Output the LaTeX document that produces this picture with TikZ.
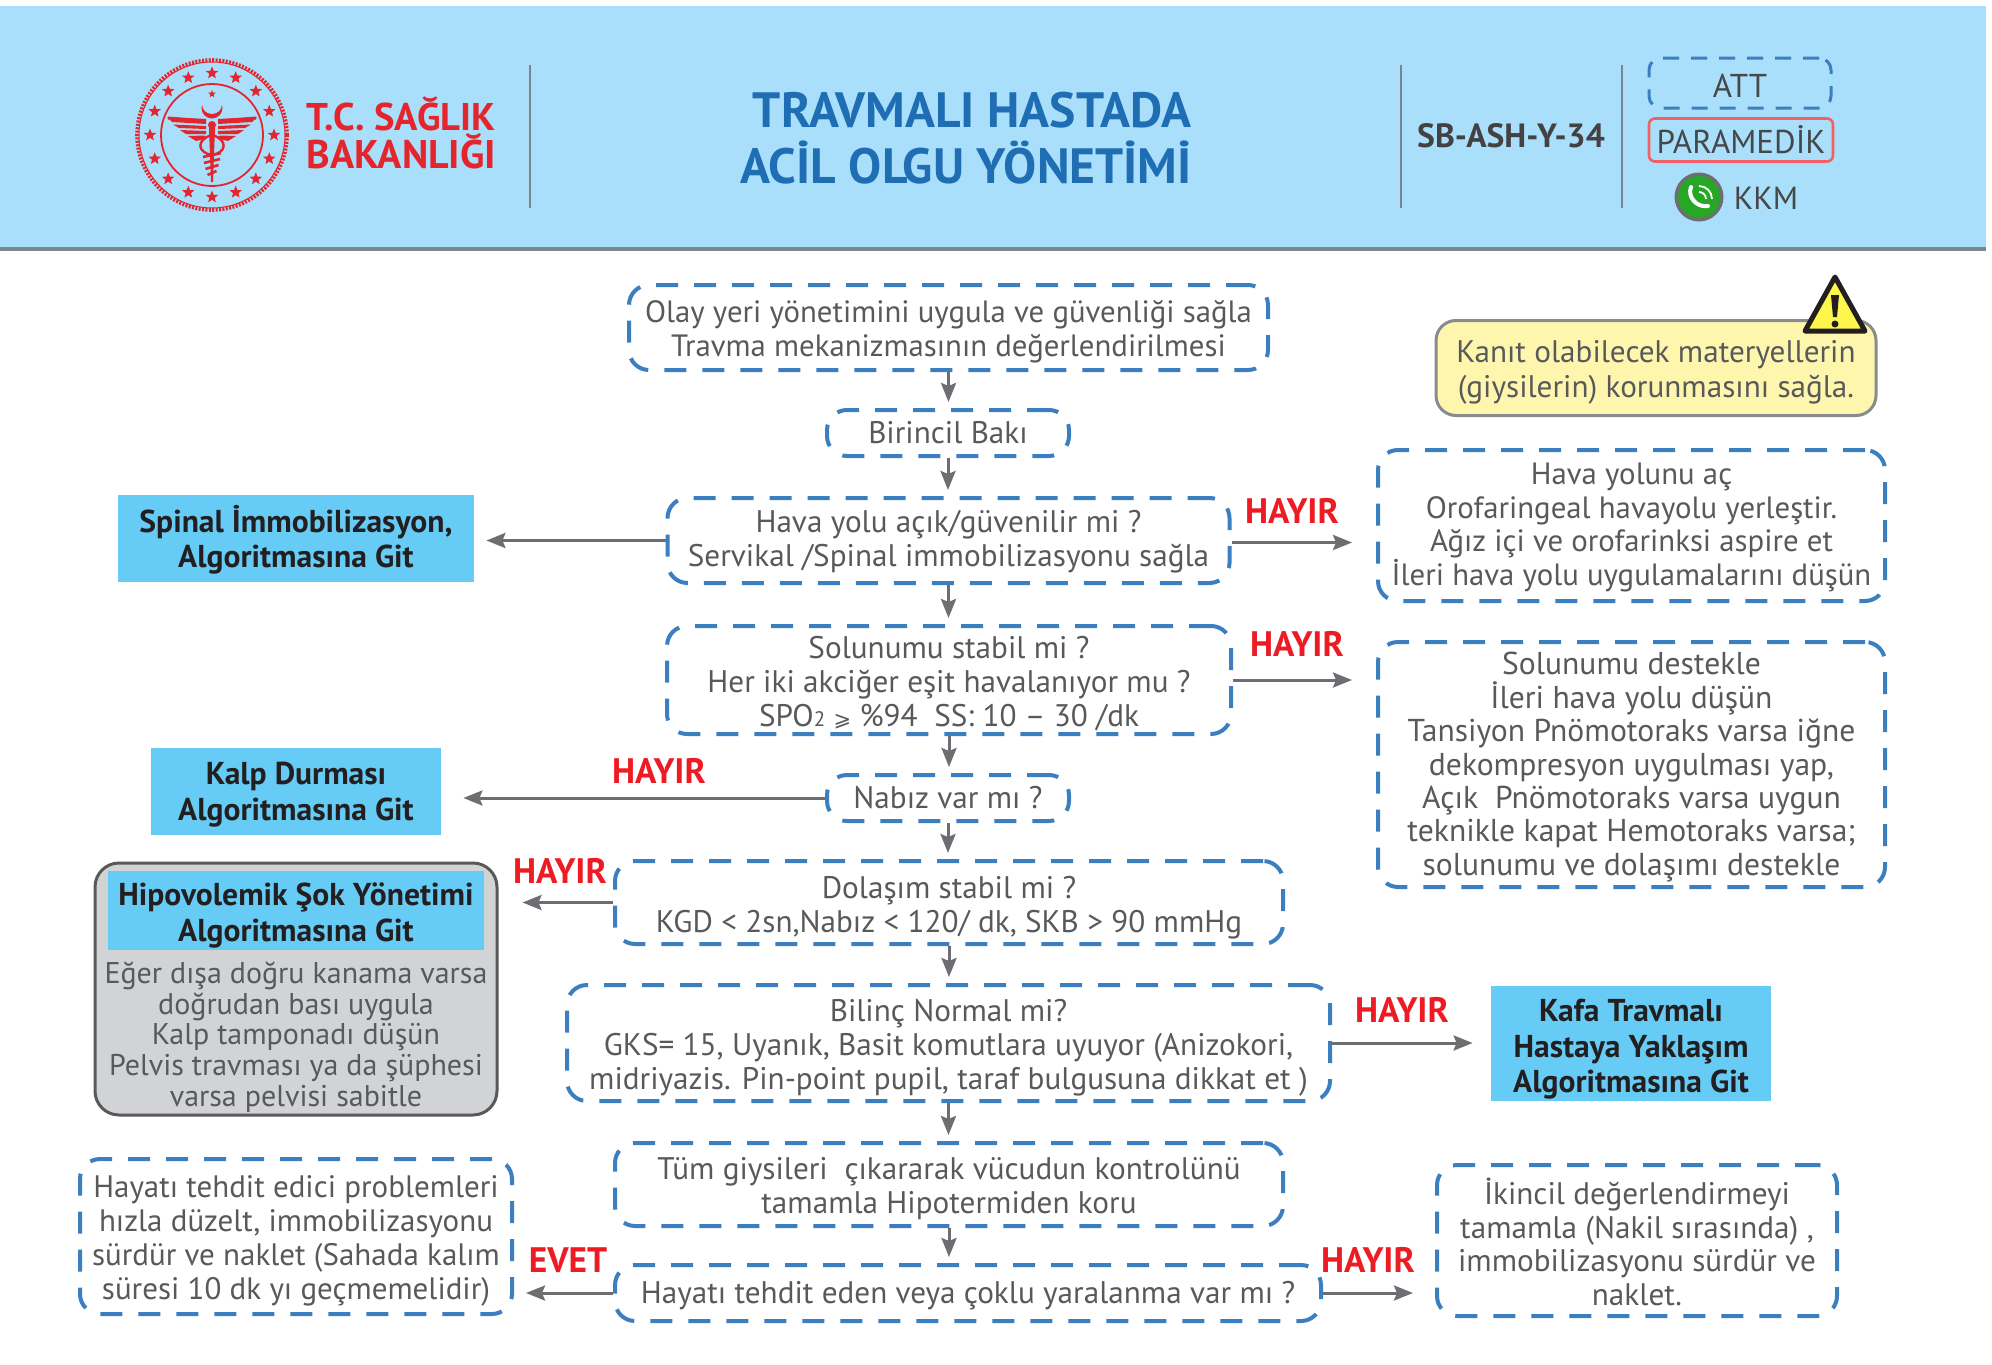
\documentclass[tikz,border=0pt]{standalone}
\usepackage{fontspec}
\setmainfont{PT Sans}
\newfontfamily\symfont{DejaVu Sans}
\usetikzlibrary{arrows.meta,shapes.geometric}
\definecolor{hdr}{HTML}{A9DFFA}
\definecolor{hline}{HTML}{7A868C}
\definecolor{dblue}{HTML}{3C7FC1}
\definecolor{txt}{HTML}{58595B}
\definecolor{blk}{HTML}{231F20}
\definecolor{cyanbox}{HTML}{66CCF5}
\definecolor{grayb}{HTML}{D1D3D4}
\definecolor{yel}{HTML}{FFF6AE}
\definecolor{rd}{HTML}{ED1C24}
\definecolor{arr}{HTML}{6D6E71}
\definecolor{ttl}{HTML}{1F6DB3}
\definecolor{logo}{HTML}{E5252D}
\tikzset{
 wh/.style 2 args={minimum width=#1*0.5pt,minimum height=#2*0.5pt},
 bodytext/.style={font=\fontsize{15.6}{17}\selectfont,text=txt,align=center,inner sep=0pt},
 dbox/.style={draw=dblue,line width=2pt,rounded corners=10pt,dash pattern=on 11pt off 8pt},
 ybox/.style={fill=yel,draw=arr!80!white,line width=1.5pt,rounded corners=10pt},
 gofill/.style={fill=cyanbox},
 gotext/.style={font=\bfseries\fontsize{15.8}{17.7}\selectfont,text=blk,align=center,inner sep=0pt},
 lab/.style={font=\bfseries\fontsize{17.7}{19}\selectfont,text=rd,inner sep=0pt},
 conn/.style={draw=arr,line width=1.5pt,-{Stealth[length=9.5pt,width=7.5pt,inset=1.5pt]}},
 sep/.style={draw=hline,line width=1.2pt},
 starn/.style={star,star points=5,star point ratio=2.3,fill=logo,inner sep=0pt,minimum size=6.5pt},
 headtext/.style={font=\fontsize{16.5}{18}\selectfont,text=txt!80!black,inner sep=0pt},
}
% box style, text style, name, centre, width, height, text drop (in px of the 1568 view), text
\newcommand\tbox[8]{%
 \node[#1,wh={#5}{#6},inner sep=0pt] (#3) at (#4) {};
 \node[#2] (#3t) at ([yshift=-#7*0.635pt]#3.center) {#8};
}
\begin{document}
\begin{tikzpicture}[x=0.5pt,y=-0.5pt]
\useasboundingbox[fill=white] (0,0) rectangle (1992,1365);
% header
\fill[hdr] (0,6) rectangle (1986,248);
\draw[hline,line width=1.8pt] (0,249) -- (1986,249);
% logo
\begin{scope}
\draw[logo,line width=1.8pt,dash pattern=on 1pt off 0.7pt] (212,135) circle[radius=75];
\draw[logo,line width=0.5pt] (212,135) circle[radius=73];
\draw[logo,line width=0.9pt] (212,135) circle[radius=51];
\foreach \i in {0,...,15} \node[starn] (s\i) at ({212+62*cos(22.5*\i)},{135+62*sin(22.5*\i)}) {};
\fill[logo] (212,108) circle[radius=10.5];
\fill[hdr] (212,104) circle[radius=10];
\node[starn,minimum size=4pt] (smoon) at (212,94) {};
\foreach \s in {1,-1}{
 \draw[logo,line width=1.5pt] ({212+\s*44},118) -- ({212+\s*8},121);
 \fill[logo] ({212+\s*45},117) -- ({212+\s*6},119) -- ({212+\s*6},124) -- ({212+\s*40},122) -- cycle;
 \fill[logo] ({212+\s*39},124.5) -- ({212+\s*6},126) -- ({212+\s*6},129) -- ({212+\s*33},128) -- cycle;
 \fill[logo] ({212+\s*32},130) -- ({212+\s*6},131) -- ({212+\s*6},134) -- ({212+\s*26},134) -- cycle;
 \fill[logo] ({212+\s*24},136) -- ({212+\s*7},135.5) -- ({212+\s*7},139) -- ({212+\s*16},141) -- cycle;
}
\fill[logo] (212,125) circle[radius=4];
\fill[logo] (209,128) -- (215,128) -- (213,182) -- (211,182) -- cycle;
\draw[logo,line width=1.2pt] (212,135) .. controls (195,140) and (198,153) .. (212,155);
\draw[logo,line width=1.2pt] (212,135) .. controls (229,140) and (226,153) .. (212,155);
\foreach \y/\w in {157/9,163/8,169/6.5,175/4.5}{
 \draw[logo,line width=1.3pt] ({212-\w},\y) -- ({212+\w},{\y-4});
}
\end{scope}
\node[font=\bfseries\fontsize{19.3}{21}\selectfont,text=logo,inner sep=0pt,anchor=west] (m1) at (306,114) {T.C. SAĞLIK};
\node[font=\bfseries\fontsize{20}{21}\selectfont,text=logo,inner sep=0pt,anchor=west] (m2) at (306,151) {BAKANLIĞI};
\draw[sep] (530,65) -- (530,208);
\node[font=\bfseries\fontsize{24.8}{27.5}\selectfont,text=ttl,inner sep=0pt] (t1) at (972,110) {TRAVMALI HASTADA};
\node[font=\bfseries\fontsize{24.8}{27.5}\selectfont,text=ttl,inner sep=0pt] (t2) at (966,163) {ACİL OLGU YÖNETİMİ};
\draw[sep] (1401,65) -- (1401,208);
\node[font=\bfseries\fontsize{16.8}{18}\selectfont,text=blk!85,inner sep=0pt] (code) at (1511,136) {SB-ASH-Y-34};
\draw[sep] (1622,65) -- (1622,208);
\node[wh={182}{50},headtext,draw=dblue,line width=1.5pt,rounded corners=6pt,dash pattern=on 8pt off 6pt] (att) at (1740,83) {\rule{0pt}{14pt}ATT};
\node[wh={184}{43},headtext,draw=rd!70!white,line width=1.3pt,rounded corners=3pt] (par) at (1741,140) {PARAMEDİK};
\fill[arr] (1699,197) circle[radius=24.5];
\fill[green!60!black!85!white] (1699,197) circle[radius=21];
\draw[white,line width=2pt,line cap=round] (1691,187) .. controls (1687,197) and (1697,208) .. (1708,206);
\draw[white,line width=0.9pt] (1699,186) arc[start angle=-90,end angle=0,radius=13];
\draw[white,line width=0.9pt] (1699,192) arc[start angle=-90,end angle=0,radius=7];
\node[headtext,font=\fontsize{16}{18}\selectfont] (kkm) at (1766,198) {KKM};
% yellow box
\tbox{ybox}{bodytext,font=\fontsize{15.6}{17.8}\selectfont}{kanit}{1656,368}{440}{95}{3.5}{Kanıt olabilecek materyellerin\\(giysilerin) korunmasını sağla.}
\coordinate (w1) at (1835,277);
\coordinate (w2) at (1805,331);
\coordinate (w3) at (1865,331);
\draw[fill=yellow!70!white,draw=blk,line width=2.5pt,line join=round] (w1) -- (w2) -- (w3) -- cycle;
\fill[blk] (1831,295) -- (1839,295) -- (1837,317) -- (1833,317) -- cycle;
\fill[blk] (1835,324) circle[radius=3.5];
% centre column
\tbox{dbox}{bodytext,font=\fontsize{15.4}{17}\selectfont}{a}{948.5,327.5}{639}{85}{3}{Olay yeri yönetimini uygula ve güvenliği sağla\\Travma mekanizmasının değerlendirilmesi}
\tbox{dbox}{bodytext}{b}{948,433}{242}{46}{0}{Birincil Bakı}
\tbox{dbox}{bodytext}{c}{948.5,540.5}{562}{85}{1}{Hava yolu açık/güvenilir mi ?\\Servikal /Spinal immobilizasyonu sağla}
\tbox{dbox}{bodytext}{d}{949,680}{564}{108}{3}{Solunumu stabil mi ?\\Her iki akciğer eşit havalanıyor mu ?\\SPO{\fontsize{10.5}{12}\selectfont 2} {\symfont\fontsize{10.5}{12}\selectfont ⩾} \%94 \ SS: 10 – 30 /dk}
\tbox{dbox}{bodytext}{e}{948,798}{242}{46}{0}{Nabız var mı ?}
\tbox{dbox}{bodytext}{f}{949,902.5}{668}{83}{4}{Dolaşım stabil mi ?\\KGD < 2sn,Nabız < 120/ dk, SKB > 90 mmHg}
\tbox{dbox}{bodytext}{g}{948.5,1043}{763}{116}{3.5}{Bilinç Normal mi?\\GKS= 15, Uyanık, Basit komutlara uyuyor (Anizokori,\\midriyazis. Pin-point pupil, taraf bulgusuna dikkat et )}
\tbox{dbox}{bodytext}{h}{949,1184.5}{668}{83}{3.5}{Tüm giysileri \ çıkararak vücudun kontrolünü\\tamamla Hipotermiden koru}
\tbox{dbox}{bodytext}{i}{968,1293}{706}{56}{2}{Hayatı tehdit eden veya çoklu yaralanma var mı ?}
% right
\tbox{dbox}{bodytext,font=\fontsize{15.4}{16.9}\selectfont}{r1}{1631.5,525.5}{507}{151}{1.5}{Hava yolunu aç\\Orofaringeal havayolu yerleştir.\\Ağız içi ve orofarinksi aspire et\\İleri hava yolu uygulamalarını düşün}
\tbox{dbox}{bodytext,font=\fontsize{15.8}{16.7}\selectfont}{r2}{1631.5,764.5}{507}{245}{2}{Solunumu destekle\\İleri hava yolu düşün\\Tansiyon Pnömotoraks varsa iğne\\dekompresyon uygulması yap,\\Açık \ Pnömotoraks varsa uygun\\teknikle kapat Hemotoraks varsa;\\solunumu ve dolaşımı destekle}
\tbox{gofill}{gotext}{r3}{1631,1043.5}{280}{115}{4.5}{Kafa Travmalı\\Hastaya Yaklaşım\\Algoritmasına Git}
\tbox{dbox}{bodytext,font=\fontsize{15.6}{16.8}\selectfont}{r4}{1637,1240.5}{400}{151}{1}{İkincil değerlendirmeyi\\tamamla (Nakil sırasında) ,\\immobilizasyonu sürdür ve\\naklet.}
% left
\tbox{gofill}{gotext}{l1}{296,538.5}{356}{87}{1}{Spinal İmmobilizasyon,\\Algoritmasına Git}
\tbox{gofill}{gotext}{l2}{296,791.5}{290}{87}{2.5}{Kalp Durması\\Algoritmasına Git}
\node[wh={402}{252},fill=grayb,draw=txt,line width=1.5pt,rounded corners=12pt] (l3) at (296,989) {};
\tbox{gofill}{gotext}{l3a}{296,910.5}{376}{79}{4}{Hipovolemik Şok Yönetimi\\Algoritmasına Git}
\node[bodytext,font=\fontsize{15}{15.3}\selectfont] (l3b) at (296,1037) {Eğer dışa doğru kanama varsa\\doğrudan bası uygula\\Kalp tamponadı düşün\\Pelvis travması ya da şüphesi\\varsa pelvisi sabitle};
\tbox{dbox}{bodytext,font=\fontsize{15.5}{17}\selectfont}{l4}{296,1236.5}{432}{155}{3.5}{Hayatı tehdit edici problemleri\\hızla düzelt, immobilizasyonu\\sürdür ve naklet (Sahada kalım\\süresi 10 dk yı geçmemelidir)}
% connectors
\draw[conn,shorten >=3pt] (a.south) -- (a.south |- b.north);
\draw[conn,shorten >=3pt] (b.south) -- (b.south |- c.north);
\draw[conn,shorten >=3pt] (c.south) -- (c.south |- d.north);
\draw[conn,shorten >=3pt] (d.south) -- (d.south |- e.north);
\draw[conn,shorten >=3pt] (e.south) -- (e.south |- f.north);
\draw[conn,shorten >=3pt] (f.south) -- (f.south |- g.north);
\draw[conn,shorten >=3pt] (g.south) -- (g.south |- h.north);
\draw[conn,shorten >=3pt] (h.south) -- (h.south |- i.north);
\draw[conn,shorten >=6pt] (c.west) -- (c.west -| l1.east);
\draw[conn,shorten >=12pt] ([yshift=-1pt]c.east) -- ([yshift=-1pt]c.east -| r1.west);
\draw[conn,shorten >=12pt] (d.east) -- (d.east -| r2.west);
\draw[conn,shorten >=11pt] (e.west) -- (e.west -| l2.east);
\draw[conn,shorten >=12pt] (f.west) -- (f.west -| l3.east);
\draw[conn,shorten >=9pt] (g.east) -- (g.east -| r3.west);
\draw[conn,shorten >=6pt] (i.west) -- (i.west -| l4.east);
\draw[conn,shorten >=11pt] (i.east) -- (i.east -| r4.west);
% labels
\node[lab] (h1) at (1292,511) {HAYIR};
\node[lab] (h2) at (1297,644) {HAYIR};
\node[lab] (h3) at (659,771) {HAYIR};
\node[lab] (h4) at (560,871) {HAYIR};
\node[lab] (h5) at (1402,1010) {HAYIR};
\node[lab] (h6) at (568,1260) {EVET};
\node[lab] (h7) at (1368,1260) {HAYIR};
\end{tikzpicture}
\end{document}
